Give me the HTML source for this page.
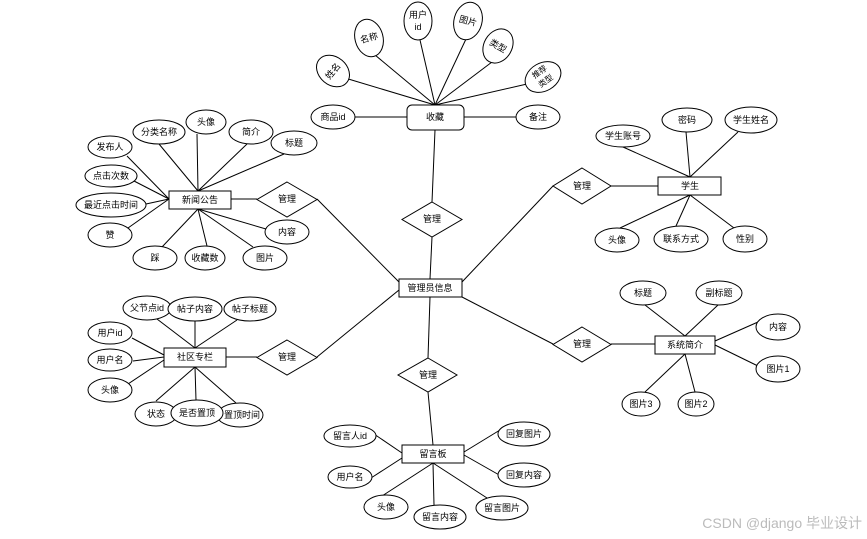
<!DOCTYPE html>
<html><head><meta charset="utf-8"><style>
html,body{margin:0;padding:0;background:#fff;}
svg{display:block;}
text{font-family:"Liberation Sans","Noto Sans CJK SC",sans-serif;font-size:9px;fill:#000;text-anchor:middle;dominant-baseline:central;}
ellipse,rect,polygon{fill:#fff;stroke:#000;stroke-width:1;}
line{stroke:#000;stroke-width:1;}
</style></head><body>
<svg width="867" height="539" viewBox="0 0 867 539" xmlns="http://www.w3.org/2000/svg">
<g>
<line x1="435" y1="105" x2="345" y2="78"/>
<line x1="435" y1="105" x2="375" y2="55"/>
<line x1="435" y1="105" x2="420" y2="40"/>
<line x1="435" y1="105" x2="466" y2="39"/>
<line x1="435" y1="105" x2="492" y2="62"/>
<line x1="435" y1="105" x2="527" y2="84"/>
<line x1="355" y1="117" x2="407" y2="117"/>
<line x1="464" y1="117" x2="517" y2="117"/>
<line x1="435" y1="130" x2="432" y2="202"/>
<line x1="432" y1="237" x2="430" y2="279"/>
<line x1="430" y1="297" x2="428" y2="358"/>
<line x1="428" y1="392" x2="433" y2="445"/>
<line x1="317" y1="199" x2="399" y2="282"/>
<line x1="317" y1="357" x2="399" y2="290"/>
<line x1="553" y1="186" x2="462" y2="282"/>
<line x1="553" y1="344" x2="462" y2="297"/>
<line x1="231" y1="199" x2="257" y2="199"/>
<line x1="198" y1="191" x2="159" y2="144"/>
<line x1="198" y1="191" x2="197" y2="134"/>
<line x1="198" y1="191" x2="247" y2="144"/>
<line x1="198" y1="191" x2="284" y2="154"/>
<line x1="169" y1="199" x2="127" y2="156"/>
<line x1="169" y1="199" x2="134" y2="181"/>
<line x1="169" y1="199" x2="146" y2="204"/>
<line x1="169" y1="199" x2="128" y2="228"/>
<line x1="198" y1="209" x2="162" y2="247"/>
<line x1="198" y1="209" x2="207" y2="246"/>
<line x1="198" y1="209" x2="253" y2="247"/>
<line x1="198" y1="209" x2="266" y2="229"/>
<line x1="226" y1="357" x2="257" y2="357"/>
<line x1="195" y1="348" x2="157" y2="319"/>
<line x1="195" y1="348" x2="195" y2="321"/>
<line x1="195" y1="348" x2="237" y2="320"/>
<line x1="164" y1="355" x2="132" y2="338"/>
<line x1="164" y1="357" x2="133" y2="361"/>
<line x1="164" y1="360" x2="128" y2="384"/>
<line x1="195" y1="367" x2="156" y2="401"/>
<line x1="195" y1="367" x2="196" y2="400"/>
<line x1="195" y1="367" x2="236" y2="403"/>
<line x1="611" y1="186" x2="658" y2="186"/>
<line x1="690" y1="177" x2="623" y2="147"/>
<line x1="690" y1="177" x2="686" y2="132"/>
<line x1="690" y1="177" x2="738" y2="132"/>
<line x1="690" y1="195" x2="620" y2="228"/>
<line x1="690" y1="195" x2="676" y2="226"/>
<line x1="690" y1="195" x2="734" y2="228"/>
<line x1="611" y1="344" x2="655" y2="344"/>
<line x1="685" y1="336" x2="645" y2="305"/>
<line x1="685" y1="336" x2="718" y2="305"/>
<line x1="715" y1="341" x2="758" y2="322"/>
<line x1="715" y1="345" x2="760" y2="367"/>
<line x1="685" y1="354" x2="645" y2="392"/>
<line x1="685" y1="354" x2="695" y2="392"/>
<line x1="402" y1="453" x2="374" y2="434"/>
<line x1="402" y1="458" x2="371" y2="478"/>
<line x1="433" y1="463" x2="382" y2="496"/>
<line x1="433" y1="463" x2="434" y2="505"/>
<line x1="433" y1="463" x2="487" y2="498"/>
<line x1="464" y1="452" x2="500" y2="430"/>
<line x1="464" y1="455" x2="501" y2="476"/>
</g>

<rect x="407" y="105" width="57" height="25" rx="5"/><text x="435" y="117">收藏</text>
<ellipse cx="333" cy="117" rx="22" ry="12"/><text x="333" y="117">商品id</text>
<ellipse cx="538" cy="117" rx="22" ry="12"/><text x="538" y="117">备注</text>
<g transform="rotate(-50 333 71)"><ellipse cx="333" cy="71" rx="14" ry="18"/><text x="333" y="71" fill="#444">姓名</text></g>
<g transform="rotate(-15 369 38)"><ellipse cx="369" cy="38" rx="14" ry="19"/><text x="369" y="38">名称</text></g>
<ellipse cx="418" cy="21" rx="14" ry="19"/><text x="418" y="15">用户</text><text x="418" y="27">id</text>
<g transform="rotate(15 468 21)"><ellipse cx="468" cy="21" rx="14" ry="19"/><text x="468" y="21">图片</text></g>
<g transform="rotate(30 498 46)"><ellipse cx="498" cy="46" rx="14" ry="18"/><text x="498" y="46">类型</text></g>
<g transform="rotate(60 543 77)"><ellipse cx="543" cy="77" rx="14" ry="19"/></g>
<g transform="rotate(-35 543 77)"><text x="543" y="71" style="font-size:8px">推荐</text><text x="543" y="82" style="font-size:8px">类型</text></g>

<polygon points="432,202 462,219.5 432,237 402,219.5"/><text x="432" y="219">管理</text>
<rect x="399" y="279" width="63" height="18"/><text x="430" y="288">管理员信息</text>
<polygon points="428,358 457,375 428,392 398,375"/><text x="428" y="375">管理</text>

<rect x="169" y="191" width="62" height="18"/><text x="200" y="200">新闻公告</text>
<polygon points="287,182 317,199.5 287,217 257,199.5"/><text x="287" y="199">管理</text>
<ellipse cx="159" cy="132" rx="26" ry="12"/><text x="159" y="132">分类名称</text>
<ellipse cx="206" cy="122" rx="20" ry="12"/><text x="206" y="122">头像</text>
<ellipse cx="251" cy="132" rx="22" ry="12"/><text x="251" y="132">简介</text>
<ellipse cx="294" cy="143" rx="23" ry="12"/><text x="294" y="143">标题</text>
<ellipse cx="110" cy="147" rx="22" ry="11"/><text x="110" y="147">发布人</text>
<ellipse cx="111" cy="176" rx="26" ry="11"/><text x="111" y="176">点击次数</text>
<ellipse cx="111" cy="205" rx="35" ry="12"/><text x="111" y="205">最近点击时间</text>
<ellipse cx="110" cy="235" rx="22" ry="12"/><text x="110" y="235">赞</text>
<ellipse cx="155" cy="258" rx="22" ry="12"/><text x="155" y="258">踩</text>
<ellipse cx="205" cy="258" rx="20" ry="12"/><text x="205" y="258">收藏数</text>
<ellipse cx="265" cy="258" rx="22" ry="12"/><text x="265" y="258">图片</text>
<ellipse cx="287" cy="232" rx="22" ry="12"/><text x="287" y="232">内容</text>

<rect x="164" y="348" width="62" height="19"/><text x="195" y="357">社区专栏</text>
<polygon points="287,340 317,357.5 287,375 257,357.5"/><text x="287" y="357">管理</text>
<ellipse cx="147" cy="308" rx="24" ry="12"/><text x="147" y="308">父节点id</text>
<ellipse cx="195" cy="309" rx="27" ry="12"/><text x="195" y="309">帖子内容</text>
<ellipse cx="250" cy="309" rx="26" ry="12"/><text x="250" y="309">帖子标题</text>
<ellipse cx="110" cy="333" rx="22" ry="11"/><text x="110" y="333">用户id</text>
<ellipse cx="110" cy="360" rx="22" ry="11"/><text x="110" y="360">用户名</text>
<ellipse cx="110" cy="390" rx="22" ry="12"/><text x="110" y="390">头像</text>
<ellipse cx="156" cy="414" rx="21" ry="12"/><text x="156" y="414">状态</text>
<ellipse cx="240" cy="415" rx="23" ry="12"/><text x="242" y="415">置顶时间</text>
<ellipse cx="197" cy="413" rx="26" ry="13"/><text x="197" y="413">是否置顶</text>

<rect x="658" y="177" width="63" height="18"/><text x="690" y="186">学生</text>
<polygon points="582,168 611,186 582,204 553,186"/><text x="582" y="186">管理</text>
<ellipse cx="623" cy="136" rx="27" ry="11"/><text x="623" y="136">学生账号</text>
<ellipse cx="687" cy="120" rx="25" ry="12"/><text x="687" y="120">密码</text>
<ellipse cx="751" cy="120" rx="26" ry="13"/><text x="751" y="120">学生姓名</text>
<ellipse cx="617" cy="240" rx="22" ry="12"/><text x="617" y="240">头像</text>
<ellipse cx="681" cy="239" rx="27" ry="13"/><text x="681" y="239">联系方式</text>
<ellipse cx="745" cy="239" rx="22" ry="13"/><text x="745" y="239">性别</text>

<rect x="655" y="336" width="60" height="18"/><text x="685" y="345">系统简介</text>
<polygon points="582,327 611,344.5 582,362 553,344.5"/><text x="582" y="344">管理</text>
<ellipse cx="643" cy="293" rx="23" ry="12"/><text x="643" y="293">标题</text>
<ellipse cx="719" cy="293" rx="23" ry="12"/><text x="719" y="293">副标题</text>
<ellipse cx="778" cy="327" rx="22" ry="13"/><text x="778" y="327">内容</text>
<ellipse cx="778" cy="369" rx="22" ry="13"/><text x="778" y="369">图片1</text>
<ellipse cx="641" cy="404" rx="19" ry="12"/><text x="641" y="404">图片3</text>
<ellipse cx="696" cy="404" rx="18" ry="12"/><text x="696" y="404">图片2</text>

<rect x="402" y="445" width="62" height="18"/><text x="433" y="454">留言板</text>
<ellipse cx="350" cy="436" rx="26" ry="11"/><text x="350" y="436">留言人id</text>
<ellipse cx="350" cy="477" rx="22" ry="11"/><text x="350" y="477">用户名</text>
<ellipse cx="386" cy="507" rx="22" ry="12"/><text x="386" y="507">头像</text>
<ellipse cx="440" cy="517" rx="26" ry="12"/><text x="440" y="517">留言内容</text>
<ellipse cx="502" cy="508" rx="26" ry="12"/><text x="502" y="508">留言图片</text>
<ellipse cx="524" cy="434" rx="26" ry="12"/><text x="524" y="434">回复图片</text>
<ellipse cx="524" cy="475" rx="26" ry="12"/><text x="524" y="475">回复内容</text>

<text x="862" y="523" style="font-size:14px;fill:#bbb;text-anchor:end">CSDN @django  毕业设计</text>
</svg>
</body></html>
